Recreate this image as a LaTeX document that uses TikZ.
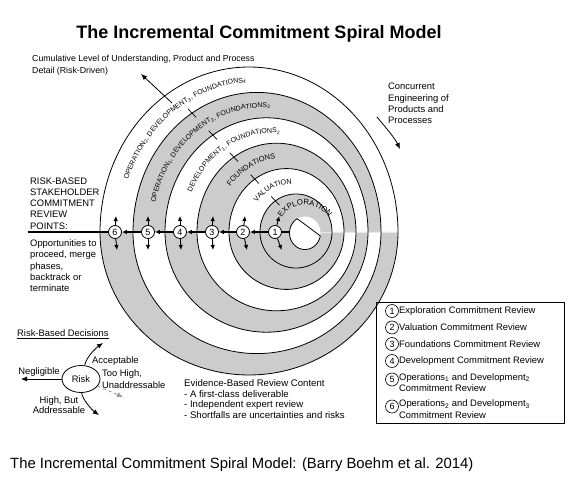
\documentclass[tikz,border=0pt]{standalone}
\usepackage{fontspec}
\setmainfont{Liberation Sans}
\usetikzlibrary{positioning,arrows.meta,shapes.geometric,decorations.text,calc,intersections}

\definecolor{SpiralGrey}{RGB}{204,204,204}
\definecolor{SeamGrey}{RGB}{232,232,232}
\definecolor{SkipGrey}{RGB}{150,150,150}

\newcommand{\bodyfont}{\fontsize{9.4}{11.4}\selectfont}
\newcommand{\bandfont}{\fontsize{7}{8}\selectfont}

\begin{document}
\begin{tikzpicture}[x=1pt, y=-1pt, line join=round,
    every node/.style={font=\bodyfont, inner sep=0pt},
    note/.style={align=left, anchor=north west},
    review/.style={draw, circle, fill=white, line width=0.8pt,
                   minimum size=13pt, font=\fontsize{9}{9}\selectfont},
    keynum/.style={draw, circle, line width=0.6pt,
                   minimum size=13pt, font=\fontsize{9}{9}\selectfont},
    flow/.style={-{Latex[length=5pt,width=4.5pt]}, line width=1.1pt},
    vflow/.style={-{Latex[length=5pt,width=4.5pt]}, line width=0.9pt},
    arr/.style={-{Latex[length=6pt,width=5pt]}, line width=0.8pt},
    coil/.style={line width=0.8pt},
    tick/.style={line width=0.7pt},
    band/.style={decorate, decoration={text along path, text align=center,
                 text={#1}}}
  ]
  \fill[white] (0,0) rectangle (568,481);
  \useasboundingbox (0,0) rectangle (568,481);

  % turns of the spiral, outside in (upper and lower halves)
  \foreach \m/\L/\R/\T/\B/\ctop/\cbot in {6/100/398/67/375/white/SpiralGrey,
        5/133/381/92.4/353.6/SpiralGrey/white,
        4/165/368/117.8/332.2/white/SpiralGrey,
        3/197/356/143.2/310.8/SpiralGrey/white,
        2/229/344/168.6/289.4/white/SpiralGrey,
        1/260/332/194/268/SpiralGrey/SpiralGrey}{
    \fill[\ctop] plot[variable=\a, domain=180:360, samples=90]
          ({(\L+\R)/2+(\R-\L)/2*cos(\a)},{232+(232-\T)*sin(\a)}) -- cycle;
    \fill[\cbot] plot[variable=\a, domain=0:180, samples=90]
          ({(\L+\R)/2+(\R-\L)/2*cos(\a)},{232+(\B-232)*sin(\a)}) -- cycle;
  }
  \fill[white] (305,233) ellipse[x radius=15.5, y radius=16.5];
  \draw[SeamGrey, line width=0.8pt] (321,232) -- (397,232);
  \foreach \m/\L/\R/\T/\B in {6/100/398/67/375, 5/133/381/92.4/353.6,
        4/165/368/117.8/332.2, 3/197/356/143.2/310.8,
        2/229/344/168.6/289.4, 1/260/332/194/268}{
    \draw[coil, name path global=up\m] plot[variable=\a, domain=180:360, samples=90]
          ({(\L+\R)/2+(\R-\L)/2*cos(\a)},{232+(232-\T)*sin(\a)});
    \draw[coil] plot[variable=\a, domain=0:180, samples=90]
          ({(\L+\R)/2+(\R-\L)/2*cos(\a)},{232+(\B-232)*sin(\a)});
  }
  % start of the spiral
  \coordinate (dtop) at ({305+15.5*cos(240)},{233+16.5*sin(240)});
  \coordinate (dend) at ({305+15.5*cos(10)},{233+16.5*sin(10)});
  \draw[coil] plot[variable=\a, domain=240:10, samples=60]
        ({305+15.5*cos(\a)},{233+16.5*sin(\a)}) -- cycle;

  % phase ticks
  \coordinate (O) at (305,232);
  \path[name path global=ray] (O) -- +(-172,-181);
  \foreach \m in {1,...,5}{
    \path[name intersections={of=ray and up\m, by={x\m}}];
    \draw[tick] ($(x\m)!6pt!(O)$) -- ($(x\m)!-6pt!(O)$);
  }
  \coordinate (cumS) at (172,103);
  \coordinate (cumE) at (141,74);
  \draw[arr] (cumS) -- (cumE);

  % labels along the turns
  \path[band={|\fontsize{7.8}{8}\selectfont|EXPLORATION}]
    plot[variable=\a, domain=180:360, samples=60] ({305+28*cos(\a)},{232+27*sin(\a)});
  \path[band={|\fontsize{7.3}{8}\selectfont|VALUATION}]
    plot[variable=\a, domain=204:284, samples=60] ({292.2+44.6*cos(\a)},{232+48.2*sin(\a)});
  \path[band={|\fontsize{7.5}{8}\selectfont|FOUNDATIONS}]
    plot[variable=\a, domain=197:287, samples=60] ({282.5+66.3*cos(\a)},{232+73.6*sin(\a)});
  \path[band={|\bandfont|DEVELOPMENT{\textsubscript{1}}, FOUNDATIONS{\textsubscript{2}}}]
    plot[variable=\a, domain=190:290, samples=80] ({272.5+88.3*cos(\a)},{232+99*sin(\a)});
  \path[band={|\bandfont|OPERATION{\textsubscript{1}}, DEVELOPMENT{\textsubscript{2}}, FOUNDATIONS{\textsubscript{3}}}]
    plot[variable=\a, domain=184:285, samples=80] ({262.5+110.3*cos(\a)},{232+124.4*sin(\a)});
  \path[band={|\bandfont|OPERATION{\textsubscript{2}}, DEVELOPMENT{\textsubscript{3}}, FOUNDATIONS{\textsubscript{4}}}]
    plot[variable=\a, domain=184:285, samples=80] ({253.8+134*cos(\a)},{232+149.8*sin(\a)});

  % commitment review points
  \foreach \n/\x/\ux/\dx in {1/275/279.3/281.7, 2/243/245/247, 3/212/213/213,
                             4/180/180/181, 5/148/148/148, 6/115/116/117}{
    \node[review] (r\n) at (\x,232) {\n};
    \coordinate (u\n) at (\ux,216);
    \coordinate (d\n) at (\dx,250);
    \draw[vflow] (r\n) -- (u\n);
    \draw[vflow] (r\n) -- (d\n);
  }
  \coordinate (axisL) at (28,232);
  \coordinate (axisR) at (289.5,232);
  \draw[line width=1.1pt] (r6) -- (axisL);
  \foreach \a/\b in {1/2,2/3,3/4,4/5,5/6}
    \draw[flow] (r\a) -- (r\b);
  \draw[line width=1.1pt] (r1) -- (axisR);

  % texts round the spiral
  \node[font=\fontsize{18}{20}\selectfont\bfseries, anchor=base] (title)
    at (259,38.5) {The Incremental Commitment Spiral Model};
  \node[note, font=\fontsize{8.75}{12.5}\selectfont] (cumtxt) at (32,54.5)
    {Cumulative Level of Understanding, Product and Process\\Detail (Risk-Driven)};
  \node[note] (conctxt) at (388,83)
    {Concurrent\\Engineering of\\Products and\\Processes};
  \coordinate (ccS) at (377,117);
  \coordinate (ccE) at (400,149);
  \draw[arr] (ccS) .. controls (385.3,127.1) and (394.3,137.2) .. (ccE);
  \node[note, font=\fontsize{9.4}{11.3}\selectfont] (pointtxt) at (30,177.3)
    {RISK-BASED\\STAKEHOLDER\\COMMITMENT\\REVIEW\\POINTS:};
  \node[note, font=\fontsize{9.4}{11.3}\selectfont] (opptxt) at (30,239.5)
    {Opportunities to\\proceed, merge\\phases,\\backtrack or\\terminate};
  \node[note, font=\fontsize{9.6}{10.9}\selectfont] (evtxt) at (184,379)
    {Evidence-Based Review Content\\- A first-class deliverable\\- Independent expert review\\- Shortfalls are uncertainties and risks};

  % risk-based decisions
  \node[anchor=north west] (rbd) at (17,329.5) {\underline{Risk-Based Decisions}};
  \node[draw, ellipse, line width=0.8pt, minimum width=38pt, minimum height=27pt]
    (risk) at (81,379) {Risk};
  \coordinate (negl) at (21,379);
  \coordinate (accp) at (103,343);
  \coordinate (toohi) at (123,397);
  \coordinate (highb) at (99,415);
  \draw[arr] (risk) -- (negl);
  \draw[arr] (risk) .. controls (87,356) and (96.4,347.6) .. (accp);
  \draw[arr, dashed, SkipGrey] (risk) -- (toohi);
  \draw[arr] (risk) .. controls (82,399) and (92.4,410.4) .. (highb);
  \node[anchor=base] (negltxt) at (39,374.5) {Negligible};
  \node[anchor=base west] (acctxt) at (92,363.5) {Acceptable};
  \node[note, font=\fontsize{9.4}{12}\selectfont] (toohitxt) at (102,369.5)
    {Too High,\\Unaddressable};
  \node[anchor=north, align=center, font=\fontsize{9.4}{10.2}\selectfont]
    (highbtxt) at (59,396.5) {High, But\\Addressable};

  % key to the review points
  \draw[line width=0.7pt] (376,302) rectangle (564,423);
  \foreach \n/\y/\lbl in {1/311/Exploration Commitment Review,
                          2/327.5/Valuation Commitment Review,
                          3/344/Foundations Commitment Review,
                          4/361/Development Commitment Review}{
    \node[keynum] (k\n) at (392,\y) {\n};
    \node[anchor=west] (kt\n) at (399,\y) {\lbl};
  }
  \node[keynum] (k5) at (392,379.5) {5};
  \node[anchor=west, align=left, font=\fontsize{9.4}{11.6}\selectfont] (kt5)
    at (399,382.5) {Operations\textsubscript{1} and Development\textsubscript{2}\\Commitment Review};
  \node[keynum] (k6) at (392,406.5) {6};
  \node[anchor=west, align=left, font=\fontsize{9.4}{11.6}\selectfont] (kt6)
    at (399,409) {Operations\textsubscript{2} and Development\textsubscript{3}\\Commitment Review};

  \node[font=\fontsize{14.85}{17}\selectfont, anchor=base west] (caption) at (10,468)
    {The Incremental Commitment Spiral Model: (Barry Boehm et al. 2014)};
\end{tikzpicture}
\end{document}
